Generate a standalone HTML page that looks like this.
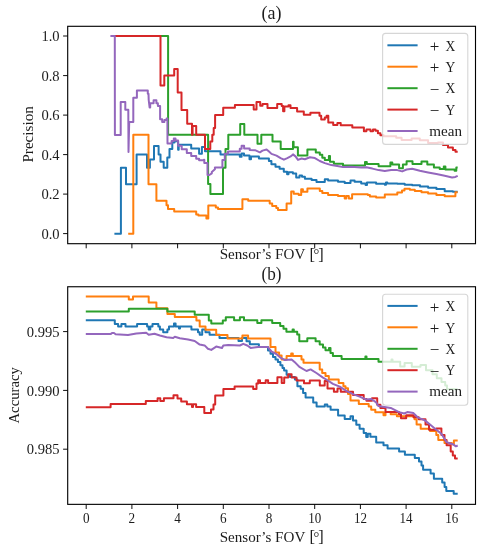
<!DOCTYPE html>
<html lang="en"><head><meta charset="utf-8"><title>Precision and accuracy vs sensor FOV</title>
<style>
html,body{margin:0;padding:0;background:#fff}
svg{display:block}
text{font-family:"Liberation Serif","DejaVu Serif",serif;fill:#1c1c1c}
.ln path{fill:none;stroke-width:2.00;stroke-linejoin:round;stroke-linecap:butt}
.ax{fill:none;stroke:#000;stroke-width:1.12}
.tk{stroke:#000;stroke-width:0.95}
</style></head><body>
<svg width="483" height="550" viewBox="0 0 483 550">
<rect width="483" height="550" fill="#fff"/>

<g class="ln">
<path d="M114.4,233.8H120.9V167.8H126.0V184.2H136.6V154.6H147.0V167.8H149.9V159.5H154.0V145.9H158.6V154.6H160.5V161.7H163.7V167.8H167.3V157.5H169.5V148.9H172.3V142.5H174.5V141.3H178.1V149.7H178.7V144.7H191.2V148.6H199.1V153.7H201.9V146.9H205.0V151.3H220.5V154.4H239.8V156.8H241.6V153.5H244.0V155.5H249.5V159.2H251.0V156.5H258.9V158.5H268.9V161.0H271.4V164.3H275.5V166.8H279.6V168.8H283.8V171.8H287.1V174.3H288.5V172.2H292.9V173.5H296.2V177.6H299.5V175.5H302.0V176.8H304.9V178.8H311.6V180.1H316.5V182.1H324.8V179.3H328.1V180.4H338.0V181.8H344.7V183.1H350.5V180.4H354.6V181.8H361.2V183.4H365.6V185.1H367.0V182.5H376.1V183.8H384.8V184.8H386.0V182.5H387.3V183.5H397.3V183.8H404.7V184.8H412.2V185.3H420.0V186.5H428.1V187.8H436.4V189.0H444.7V191.2H452.9V191.8H457.7" stroke="#1f77b4"/>
<path d="M128.2,233.8H133.3V134.8H148.5V184.2H156.4V200.7H166.5V205.2H168.0V208.9H174.2V211.6H196.2V214.6H198.4V215.6H206.4V218.4H208.3V205.4H215.8V207.4H218.0V208.9H242.4V199.2H248.2V200.7H269.7V203.4H272.2V205.9H276.3V207.9H278.0V210.0H286.6V203.4H291.2V191.4H293.7V193.7H298.7V194.9H301.2V189.2H302.9V191.7H307.4V188.4H319.8V190.9H322.3V193.0H328.1V195.1H338.0V195.9H344.7V198.4H346.3V195.9H348.8V198.4H352.1V194.3H367.8V194.9H369.9V196.5H376.1V197.5H384.8V194.4H397.3V192.5H402.0V190.6H404.5V188.8H409.8V189.8H414.8V191.1H421.5V192.3H428.1V193.5H436.4V194.9H444.7V196.2H455.4V192.3H457.7" stroke="#ff7f0e"/>
<path d="M158.0,36.0H168.1V134.8H208.1V184.1H210.4V194.0H223.0V167.8H225.5V149.0H228.3V134.8H240.2V123.9H244.3V134.8H257.5V143.8H261.3V134.8H272.5V141.5H280.7V148.9H293.0V141.7H293.6V147.3H297.9V155.5H307.4V149.4H315.8V152.4H319.8V154.7H322.3V157.7H324.8V160.1H328.9V156.0H330.0V161.8H333.9V163.8H343.0V165.5H365.0V161.9H366.8V164.0H378.6V166.3H390.4V162.6H392.3V164.4H399.1V168.3H402.9V164.4H406.6V161.2H412.5V164.0H421.5V161.6H427.3V164.6H433.9V167.4H439.7V169.1H443.8V166.5H445.4V169.6H454.6V170.8H456.3V167.4H457.7" stroke="#2ca02c"/>
<path d="M114.5,36.0H160.5V85.4H164.3V75.6H174.2V69.0H177.7V92.6H181.5V110.1H187.2V123.8H192.0V134.8H192.6V125.9H196.2V134.8H205.0V149.0H210.3V141.6H212.3V134.8H213.7V128.1H215.1V115.0H223.2V107.7H234.9V105.0H253.7V109.5H256.5V101.9H260.2V105.7H262.5V104.1H267.5V107.9H277.2V104.1H281.7V106.0H283.1V111.2H284.4V106.6H288.5V105.2H290.5V107.9H297.1V111.5H303.8V114.8H310.4V112.8H319.5V115.8H321.2V119.4H324.8V117.5H326.6V115.8H328.3V122.5H333.2V124.9H337.4V122.9H340.7V125.3H352.3V127.4H363.9V131.2H366.4V129.6H370.5V131.2H373.0V129.6H375.5V130.8H377.9V133.2H380.4V135.2H383.7V136.2H396.2V137.8H401.6V140.0H411.6V138.6H419.8V140.3H428.1V143.0H438.0V142.5H443.0V145.0H448.0V147.5H452.9V150.0H455.5V151.7H457.7" stroke="#d62728"/>
<path d="M110.4,36.0L114.8,36.0L114.9,135.1L120.7,135.1L120.7,102.0L125.3,102.0L125.3,109.7L128.3,109.7L128.5,151.9L129.2,122.1L133.3,122.1L133.3,97.7L136.9,97.7L136.9,90.4L147.8,90.4L147.8,93.8L148.5,93.8L148.7,100.0L149.6,107.5L150.2,107.5L150.2,103.2L153.6,103.2L153.6,100.3L156.4,100.3L156.4,103.2L157.9,103.2L157.9,106.1L160.1,106.1L160.1,119.2L162.2,119.2L162.2,122.1L164.4,122.1L164.4,120.0L166.6,120.0L166.6,118.6L167.4,118.6L167.5,143.5L171.6,143.5L171.6,141.1L173.8,141.1L173.8,138.4L175.5,138.4L175.5,140.5L178.1,140.5L178.1,145.7L181.7,145.7L181.7,149.3L186.8,149.3L186.8,153.0L191.2,153.0L191.2,155.9L196.2,155.9L196.2,158.8L199.1,158.8L199.1,160.2L203.5,160.2L204.3,159.7L204.3,163.1L207.5,163.1L207.5,175.0L209.3,175.0L211.8,173.3L211.8,171.9L214.9,169.3L214.9,167.4L222.4,167.4L222.4,160.0L224.8,160.0L224.8,153.7L228.0,153.7L228.0,151.5L239.8,151.5L239.8,148.8L241.6,148.8L241.6,145.7L244.1,145.7L244.1,148.5L249.7,148.5L249.7,150.0L255.0,150.2L259.9,152.3L262.5,150.6L266.6,149.5L269.0,151.5L271.5,153.9L276.5,155.6L280.6,158.1L283.9,159.7L287.3,158.1L290.6,156.4L293.0,154.4L295.5,156.4L298.0,159.9L301.6,158.5L304.9,159.2L309.9,157.2L314.9,158.1L319.8,161.0L324.8,163.1L331.4,165.1L343.0,167.1L351.3,166.7L361.2,167.6L366.2,167.3L372.4,168.6L378.6,170.1L384.8,171.1L391.1,169.9L397.3,170.1L402.2,171.4L406.6,169.5L412.2,168.8L419.8,170.8L428.1,172.5L436.4,174.1L444.7,175.8L452.1,177.4L455.4,176.9L457.7,175.8" stroke="#9467bd"/>
</g>
<rect class="ax" x="67.7" y="26.3" width="407.8" height="217.4"/>
<path class="tk" d="M86.2,243.7v4.6M86.2,504.4v4.6M131.9,243.7v4.6M131.9,504.4v4.6M177.6,243.7v4.6M177.6,504.4v4.6M223.3,243.7v4.6M223.3,504.4v4.6M269.0,243.7v4.6M269.0,504.4v4.6M314.7,243.7v4.6M314.7,504.4v4.6M360.4,243.7v4.6M360.4,504.4v4.6M406.1,243.7v4.6M406.1,504.4v4.6M451.8,243.7v4.6M451.8,504.4v4.6M67.7,233.6h-4.6M67.7,194.1h-4.6M67.7,154.6h-4.6M67.7,115.1h-4.6M67.7,75.6h-4.6M67.7,36.0h-4.6M67.7,449.2h-4.6M67.7,390.4h-4.6M67.7,331.6h-4.6"/>
<text x="59.6" y="238.6" font-size="14" text-anchor="end" textLength="18.2" lengthAdjust="spacingAndGlyphs">0.0</text>
<text x="59.6" y="199.1" font-size="14" text-anchor="end" textLength="18.2" lengthAdjust="spacingAndGlyphs">0.2</text>
<text x="59.6" y="159.6" font-size="14" text-anchor="end" textLength="18.2" lengthAdjust="spacingAndGlyphs">0.4</text>
<text x="59.6" y="120.1" font-size="14" text-anchor="end" textLength="18.2" lengthAdjust="spacingAndGlyphs">0.6</text>
<text x="59.6" y="80.6" font-size="14" text-anchor="end" textLength="18.2" lengthAdjust="spacingAndGlyphs">0.8</text>
<text x="59.6" y="41.0" font-size="14" text-anchor="end" textLength="18.2" lengthAdjust="spacingAndGlyphs">1.0</text>
<text x="59.6" y="454.4" font-size="14" text-anchor="end" textLength="32.8" lengthAdjust="spacingAndGlyphs">0.985</text>
<text x="59.6" y="395.6" font-size="14" text-anchor="end" textLength="32.8" lengthAdjust="spacingAndGlyphs">0.990</text>
<text x="59.6" y="336.8" font-size="14" text-anchor="end" textLength="32.8" lengthAdjust="spacingAndGlyphs">0.995</text>
<text x="86.2" y="523.2" font-size="14" text-anchor="middle" textLength="6.6" lengthAdjust="spacingAndGlyphs">0</text>
<text x="131.9" y="523.2" font-size="14" text-anchor="middle" textLength="6.6" lengthAdjust="spacingAndGlyphs">2</text>
<text x="177.6" y="523.2" font-size="14" text-anchor="middle" textLength="6.6" lengthAdjust="spacingAndGlyphs">4</text>
<text x="223.3" y="523.2" font-size="14" text-anchor="middle" textLength="6.6" lengthAdjust="spacingAndGlyphs">6</text>
<text x="269.0" y="523.2" font-size="14" text-anchor="middle" textLength="6.6" lengthAdjust="spacingAndGlyphs">8</text>
<text x="314.7" y="523.2" font-size="14" text-anchor="middle" textLength="13" lengthAdjust="spacingAndGlyphs">10</text>
<text x="360.4" y="523.2" font-size="14" text-anchor="middle" textLength="13" lengthAdjust="spacingAndGlyphs">12</text>
<text x="406.1" y="523.2" font-size="14" text-anchor="middle" textLength="13" lengthAdjust="spacingAndGlyphs">14</text>
<text x="451.8" y="523.2" font-size="14" text-anchor="middle" textLength="13" lengthAdjust="spacingAndGlyphs">16</text>
<rect x="382.6" y="33.4" width="85.2" height="111" rx="3" ry="3" fill="#fff" fill-opacity="0.8" stroke="#ccc" stroke-opacity="0.8" stroke-width="1.1"/>
<line x1="387.4" x2="417.6" y1="45.3" y2="45.3" stroke="#1f77b4" stroke-width="2.0"/><text x="434.5" y="51.9" font-size="17" text-anchor="middle" class="sym">+</text><text x="445.4" y="50.5" font-size="14.5" textLength="9.8" lengthAdjust="spacingAndGlyphs">X</text>
<line x1="387.4" x2="417.6" y1="66.7" y2="66.7" stroke="#ff7f0e" stroke-width="2.0"/><text x="434.5" y="73.3" font-size="17" text-anchor="middle" class="sym">+</text><text x="445.4" y="71.9" font-size="14.5" textLength="9.8" lengthAdjust="spacingAndGlyphs">Y</text>
<line x1="387.4" x2="417.6" y1="88.2" y2="88.2" stroke="#2ca02c" stroke-width="2.0"/><text x="434.5" y="94.8" font-size="17" text-anchor="middle" class="sym">−</text><text x="445.4" y="93.4" font-size="14.5" textLength="9.8" lengthAdjust="spacingAndGlyphs">X</text>
<line x1="387.4" x2="417.6" y1="109.6" y2="109.6" stroke="#d62728" stroke-width="2.0"/><text x="434.5" y="116.2" font-size="17" text-anchor="middle" class="sym">−</text><text x="445.4" y="114.8" font-size="14.5" textLength="9.8" lengthAdjust="spacingAndGlyphs">Y</text>
<line x1="387.4" x2="417.6" y1="131.0" y2="131.0" stroke="#9467bd" stroke-width="2.0"/><text x="429.2" y="135.6" font-size="14.5" textLength="32.8" lengthAdjust="spacingAndGlyphs">mean</text>

<text x="271.6" y="19.2" font-size="18.2" text-anchor="middle" textLength="20" lengthAdjust="spacingAndGlyphs">(a)</text>
<text x="271.6" y="280.2" font-size="18.2" text-anchor="middle" textLength="20" lengthAdjust="spacingAndGlyphs">(b)</text>
<text x="219.7" y="259.3" font-size="14.5" textLength="85.6" lengthAdjust="spacingAndGlyphs">Sensor’s FOV</text><text y="259.3" font-size="14.5"><tspan x="309.5" y="259.8" font-size="16.5">[</tspan><tspan x="313.5" y="259.3">°</tspan><tspan x="318.3" y="259.8" font-size="16.5">]</tspan></text>
<text x="219.7" y="541.8" font-size="14.5" textLength="85.6" lengthAdjust="spacingAndGlyphs">Sensor’s FOV</text><text y="541.8" font-size="14.5"><tspan x="309.5" y="542.3" font-size="16.5">[</tspan><tspan x="313.5" y="541.8">°</tspan><tspan x="318.3" y="542.3" font-size="16.5">]</tspan></text>
<text transform="translate(33.2,134.4) rotate(-90)" font-size="15.2" text-anchor="middle" textLength="56.4" lengthAdjust="spacingAndGlyphs">Precision</text>
<text transform="translate(18.6,395.3) rotate(-90)" font-size="14.8" text-anchor="middle" textLength="56.6" lengthAdjust="spacingAndGlyphs">Accuracy</text>
<g class="ln">
<path d="M85.8,320.3H114.8V323.9H118.1V326.4H121.4V323.9H125.5V326.4H137.1V323.9H147.1V326.4H148.7V329.4H150.3V326.4H152.5V323.9H158.3V326.4H159.9V329.4H163.2V332.2H167.4V329.4H169.0V326.4H174.0V323.6H175.6V326.4H179.0V328.5H180.0V326.4H191.4V329.4H198.0V332.2H199.7V334.7H202.2V329.4H205.5V332.2H209.6V334.7H219.5V338.0H238.5V341.0H242.0V338.0H246.5V341.3H249.8V344.3H258.9V347.1H268.0V350.4H270.5V353.7H273.0V357.1H275.5V359.5H277.9V362.0H280.4V365.3H282.5V368.0H284.1V370.5H286.6V374.7H290.0V377.0H294.9V379.6H297.4V386.3H300.7V388.7H303.1V392.9H305.6V397.6H313.2V402.5H316.6V406.5H324.8V404.5H327.3V406.5H330.6V409.8H338.1V415.6H344.7V418.9H350.5V416.2H353.0V420.6H356.3V424.7H359.6V428.8H363.7V433.0H366.2V437.0H367.8V433.8H370.4V436.8H376.2V442.5H383.5V445.2H387.6V448.6H399.1V451.5H404.9V454.8H414.8V458.1H419.0V461.5H421.5V465.6H423.1V469.7H430.6V473.4H433.9V478.8H442.2V482.6H444.6V487.1H446.3V490.9H453.7V493.7H457.7" stroke="#1f77b4"/>
<path d="M85.8,296.6H128.8V299.6H133.0V296.6H148.7V302.4H156.4V308.2H167.4V314.0H174.8V317.0H196.4V320.6H199.7V326.4H205.5V329.7H216.2V335.0H227.5V338.6H242.4V335.5H248.1V338.5H270.5V347.1H275.5V352.6H279.1V355.6H281.6V359.4H286.6V356.1H291.2V353.5H292.8V356.1H301.5V359.4H303.5V362.7H319.7V369.4H322.2V373.0H325.5V376.0H328.8V379.6H338.7V382.9H343.4V386.3H345.5V388.3H348.0V394.1H350.5V400.5H358.8V404.0H368.7V406.5H371.2V409.8H375.3V412.3H383.5V415.2H385.5V412.1H390.7V414.2H396.9V416.2H414.5V419.3H416.6V424.5H420.7V428.7H430.0V431.0H436.3V434.9H438.3V440.0H444.5V443.1H451.8V444.2H453.9V440.4H457.7" stroke="#ff7f0e"/>
<path d="M85.8,311.5H128.8V308.7H167.4V311.5H194.7V314.8H208.8V320.6H211.3V323.4H222.8V320.5H225.8V317.3H234.1V320.3H239.9V317.3H244.0V320.3H257.3V323.1H261.4V320.3H272.2V323.1H280.2V325.9H283.5V328.7H286.4V331.7H292.6V329.5H293.8V331.7H297.2V334.6H299.3V341.2H307.3V338.2H315.6V341.2H319.7V344.5H323.0V347.4H325.5V350.2H329.0V348.0H330.5V353.1H332.9V356.1H341.6V358.9H365.4V356.5H366.5V358.9H378.5V361.8H391.5V359.5H392.5V361.8H400.2V366.4H404.6V362.9H411.8V366.8H420.5V364.9H426.0V370.2H432.5V374.3H436.8V378.2H441.5V381.9H445.2V385.6H447.0V389.3H457.7" stroke="#2ca02c"/>
<path d="M85.8,407.2H110.6V403.9H145.8V401.0H157.6V398.3H160.3V401.0H163.9V398.3H173.5V395.3H177.5V398.4H181.2V401.4H186.9V404.2H192.0V407.1H193.0V404.2H196.1V407.1H204.3V412.9H211.0V409.6H213.5V404.5H215.2V395.5H223.4V389.0H234.6V386.5H253.2V389.0H256.5V383.5H258.2V380.3H260.0V383.0H265.7V380.3H268.1V383.0H277.4V377.2H281.7V382.9H284.2V377.6H288.2V374.3H291.6V377.6H296.5V380.5H304.0V383.3H309.8V380.5H319.8V385.6H324.7V381.0H327.5V388.5H333.9V391.8H337.5V388.5H340.8V391.8H353.0V394.9H363.7V399.0H366.5V400.7H372.0V398.2H377.2V404.8H380.4V408.0H385.5V412.1H399.0V414.2H401.0V418.3H406.2V415.2H413.5V417.3H418.7V419.3H425.5V424.5H429.0V429.7H436.3V428.5H441.4V434.9H444.5V440.0H446.6V445.2H450.7V451.4H452.8V455.6H455.0V458.4H457.7" stroke="#d62728"/>
<path d="M85.8,334.1L110.6,334.1L112.0,333.0L114.0,333.0L115.6,334.2L128.0,335.0L136.3,333.5L146.2,332.7L148.7,334.7L154.5,333.8L159.9,335.5L166.6,337.2L173.2,338.0L174.8,336.7L179.8,338.3L188.1,339.6L194.7,341.0L199.7,344.6L204.6,345.4L207.9,348.7L211.3,349.9L216.2,346.6L222.0,347.9L223.3,345.5L228.3,345.0L239.9,345.5L243.2,343.8L247.3,345.5L250.6,347.9L258.1,347.1L268.0,347.1L271.3,351.3L276.3,354.0L280.0,357.3L284.9,360.1L291.6,359.4L295.7,363.1L299.8,367.2L306.5,371.0L310.6,369.4L316.4,373.0L323.0,377.6L328.0,380.5L332.9,383.8L339.7,386.6L346.4,390.8L353.0,394.1L359.6,396.6L366.2,399.5L371.2,399.0L376.2,402.4L378.3,405.9L390.7,407.9L399.0,412.1L404.2,413.5L407.3,412.1L413.5,413.1L417.6,417.3L424.9,420.4L430.0,424.5L436.3,429.7L441.4,433.8L446.6,442.1L452.8,444.2L455.9,446.3L457.7,445.5" stroke="#9467bd"/>
</g>
<rect class="ax" x="67.7" y="286.75" width="407.8" height="217.6"/>
<rect x="382.6" y="294.3" width="85.2" height="111" rx="3" ry="3" fill="#fff" fill-opacity="0.8" stroke="#ccc" stroke-opacity="0.8" stroke-width="1.1"/>
<line x1="387.4" x2="417.6" y1="305.9" y2="305.9" stroke="#1f77b4" stroke-width="2.0"/><text x="434.5" y="312.5" font-size="17" text-anchor="middle" class="sym">+</text><text x="445.4" y="311.1" font-size="14.5" textLength="9.8" lengthAdjust="spacingAndGlyphs">X</text>
<line x1="387.4" x2="417.6" y1="327.3" y2="327.3" stroke="#ff7f0e" stroke-width="2.0"/><text x="434.5" y="333.9" font-size="17" text-anchor="middle" class="sym">+</text><text x="445.4" y="332.5" font-size="14.5" textLength="9.8" lengthAdjust="spacingAndGlyphs">Y</text>
<line x1="387.4" x2="417.6" y1="348.8" y2="348.8" stroke="#2ca02c" stroke-width="2.0"/><text x="434.5" y="355.4" font-size="17" text-anchor="middle" class="sym">−</text><text x="445.4" y="354.0" font-size="14.5" textLength="9.8" lengthAdjust="spacingAndGlyphs">X</text>
<line x1="387.4" x2="417.6" y1="370.2" y2="370.2" stroke="#d62728" stroke-width="2.0"/><text x="434.5" y="376.8" font-size="17" text-anchor="middle" class="sym">−</text><text x="445.4" y="375.4" font-size="14.5" textLength="9.8" lengthAdjust="spacingAndGlyphs">Y</text>
<line x1="387.4" x2="417.6" y1="391.6" y2="391.6" stroke="#9467bd" stroke-width="2.0"/><text x="429.2" y="396.2" font-size="14.5" textLength="32.8" lengthAdjust="spacingAndGlyphs">mean</text>

</svg></body></html>
